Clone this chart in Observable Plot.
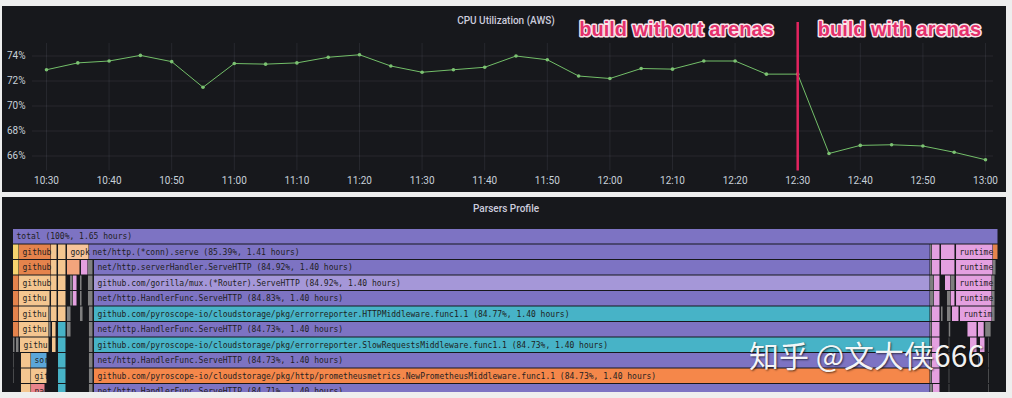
<!DOCTYPE html>
<html>
<head>
<meta charset="utf-8">
<script src="https://cdn.jsdelivr.net/npm/d3@7"></script>
<script src="https://cdn.jsdelivr.net/npm/@observablehq/plot@0.6"></script>
<style>
  html, body { margin: 0; padding: 0; background: #eeeeee; }
  #page { position: relative; width: 1012px; height: 398px; overflow: hidden; background: #eeeeee; font-family: Roboto, "Noto Sans", sans-serif; }
  .panel { position: absolute; background: #17181c; }
  .ptitle { position: absolute; width: 1012px; left: 0; text-align: center; color: #ccccdc; font-size: 10px; font-weight: 500; }
  #cpu { position: absolute; left: 2px; top: 6px; }
  #flameWrap { position: absolute; left: 0; top: 197px; width: 1012px; height: 195px; overflow: hidden; }
  #wm { position: absolute; left: 749px; top: 339px; font-family: "Noto Sans CJK SC", sans-serif; font-size: 30px; color: rgba(255,255,255,0.95); text-shadow: 1px 1px 2px rgba(0,0,0,0.6); white-space: nowrap; line-height: 1; }
</style>
</head>
<body>
<div id="page">
  <div class="panel" style="left:2px; top:6px; width:1004px; height:186px;"></div>
  <div class="panel" style="left:2px; top:197px; width:1004px; height:195px;"></div>
  <div id="cpu"></div>
  <div id="flameWrap"></div>
  <div class="ptitle" style="top:15px;">CPU Utilization (AWS)</div>
  <div class="ptitle" style="top:203px;">Parsers Profile</div>
  <div id="wm">知乎 @文大侠666</div>
</div>
<script>
// ---------- CPU utilization data ----------
const cpuTimes = ["10:30","10:35","10:40","10:45","10:50","10:55","11:00","11:05","11:10","11:15","11:20","11:25","11:30","11:35","11:40","11:45","11:50","11:55","12:00","12:05","12:10","12:15","12:20","12:25","12:30","12:35","12:40","12:45","12:50","12:55","13:00"];
const cpuValues = [72.9,73.45,73.6,74.05,73.55,71.5,73.4,73.35,73.45,73.9,74.1,73.2,72.7,72.9,73.1,74.0,73.7,72.4,72.2,73.0,72.95,73.6,73.6,72.55,72.55,66.2,66.85,66.9,66.8,66.3,65.7];
const xTickLabels = ["10:30","10:40","10:50","11:00","11:10","11:20","11:30","11:40","11:50","12:00","12:10","12:20","12:30","12:40","12:50","13:00"];
const yTickValues = [66,68,70,72,74];
const markerTime = "12:30";
const labelBefore = "build without arenas";
const labelAfter = "build with arenas";

// ---------- Flame graph data: [depth, start %, end %, kind, label] ----------
const mainStack = [
  [0, 0, 100, "net", "total (100%, 1.65 hours)"],
  [1, 7.72, 93.11, "net", "net/http.(*conn).serve (85.39%, 1.41 hours)"],
  [2, 8.22, 93.1, "net", "net/http.serverHandler.ServeHTTP (84.92%, 1.40 hours)"],
  [3, 8.22, 93.1, "gorilla", "github.com/gorilla/mux.(*Router).ServeHTTP (84.92%, 1.40 hours)"],
  [4, 8.22, 93.1, "net", "net/http.HandlerFunc.ServeHTTP (84.83%, 1.40 hours)"],
  [5, 8.22, 93.1, "pyro", "github.com/pyroscope-io/cloudstorage/pkg/errorreporter.HTTPMiddleware.func1.1 (84.77%, 1.40 hours)"],
  [6, 8.22, 93.1, "net", "net/http.HandlerFunc.ServeHTTP (84.73%, 1.40 hours)"],
  [7, 8.22, 93.1, "pyro", "github.com/pyroscope-io/cloudstorage/pkg/errorreporter.SlowRequestsMiddleware.func1.1 (84.73%, 1.40 hours)"],
  [8, 8.22, 93.1, "net", "net/http.HandlerFunc.ServeHTTP (84.73%, 1.40 hours)"],
  [9, 8.22, 93.1, "prom", "github.com/pyroscope-io/cloudstorage/pkg/http/prometheusmetrics.NewPrometheusMiddleware.func1.1 (84.73%, 1.40 hours)"],
  [10, 8.22, 93.1, "net", "net/http.HandlerFunc.ServeHTTP (84.71%, 1.40 hours)"]
];
const leftFrames = [
  [1,0,0.61,"yellow",""],[1,0.61,3.86,"orange","github"],[1,3.86,4.47,"tan",""],[1,4.57,5.38,"tan",""],[1,5.48,7.72,"peach","gopk"],
  [2,0,0.61,"yellow",""],[2,0.61,3.86,"orange","github"],[2,3.86,4.47,"tan",""],[2,4.57,5.38,"tan",""],[2,5.48,6.80,"salmon",""],[2,6.90,7.61,"pink",""],[2,7.61,8.12,"gray",""],
  [3,0,0.61,"orange",""],[3,0.61,3.86,"tan","github"],[3,3.86,4.47,"tan",""],[3,4.57,5.38,"tan",""],[3,5.79,6.09,"gray",""],[3,6.09,6.50,"pink",""],[3,6.80,7.01,"gray",""],[3,7.61,8.12,"gray",""],
  [4,0,0.61,"orange",""],[4,0.61,3.76,"tan","githu"],[4,3.86,4.47,"tan",""],[4,4.57,5.38,"tan",""],[4,5.79,6.09,"gray",""],[4,6.09,6.50,"pink",""],[4,6.80,7.01,"gray",""],[4,7.61,8.12,"gray",""],
  [5,0,0.61,"orange",""],[5,0.61,3.65,"tan","githu"],[5,3.65,3.86,"gray",""],[5,3.86,4.47,"tan",""],[5,4.57,5.38,"tan",""],[5,5.48,5.89,"gray",""],[5,6.80,7.11,"gray",""],[5,7.71,8.12,"gray",""],
  [6,0,0.61,"orange",""],[6,0.61,3.65,"tan","githu"],[6,3.65,3.86,"gray",""],[6,3.96,4.37,"tan",""],[6,4.57,5.38,"pyro",""],[6,5.48,5.89,"gray",""],[6,7.71,8.12,"gray",""],
  [7,0,0.2,"gray",""],[7,0.3,0.61,"gray",""],[7,0.71,3.65,"tan","githu"],[7,3.96,4.37,"tan",""],[7,4.57,5.38,"pyro",""],[7,7.71,8.12,"gray",""],
  [8,0,0.1,"gray",""],[8,0.81,1.83,"tan",""],[8,1.83,3.45,"blue","sor"],[8,4.57,5.38,"pyro",""],[8,7.71,8.12,"gray",""],
  [9,0,0.1,"gray",""],[9,0.81,1.83,"tan",""],[9,1.83,3.45,"tan","git"],[9,4.57,5.38,"pyro",""],[9,7.71,8.12,"gray",""],
  [10,0.81,1.83,"tan",""],[10,1.83,3.25,"red","nat"],[10,4.57,5.38,"pyro",""],[10,7.71,8.12,"gray",""]
];
const rightFrames = [
  [1,93.1,93.3,"gray",""],[1,93.3,94.11,"pink",""],[1,94.21,95.63,"pink",""],[1,95.74,99.49,"pink","runtime"],[1,99.49,100,"orange",""],
  [2,93.1,93.3,"gray",""],[2,93.3,94.11,"pink",""],[2,94.21,95.63,"pink",""],[2,95.74,99.49,"pink","runtime"],[2,99.49,99.8,"gray",""],
  [3,93.1,93.5,"gray",""],[3,93.5,94.11,"pink",""],[3,94.62,95.2,"pink",""],[3,95.2,95.63,"gray",""],[3,95.74,99.39,"pink","runtime"],[3,99.39,99.7,"gray",""],
  [4,93.1,93.5,"gray",""],[4,93.5,94.11,"pink",""],[4,94.82,95.2,"gray",""],[4,95.2,95.63,"pink",""],[4,95.74,99.39,"pink","runtime"],[4,99.39,99.7,"gray",""],
  [5,93.1,93.3,"gray",""],[5,93.3,94.11,"pink",""],[5,94.21,94.42,"gray",""],[5,94.82,95.23,"gray",""],[5,95.33,96.04,"pink",""],[5,96.14,99.39,"pink","runtim"],[5,99.39,99.7,"gray",""],
  [6,93.1,93.3,"gray",""],[6,93.3,94.11,"pink",""],[6,95.0,95.2,"gray",""],[6,96.9,97.87,"pink",""],[6,97.97,98.6,"pink",""],[6,98.7,99.3,"gray",""],
  [7,93.1,93.3,"gray",""],[7,93.3,94.11,"pink",""],[7,95.0,95.1,"gray",""],[7,97.16,97.87,"pink",""],[7,98.17,98.68,"pink",""],[7,99.0,99.1,"gray",""],
  [8,93.1,93.3,"gray",""],[8,93.3,94.11,"pink",""],[8,95.0,95.1,"gray",""],[8,98.0,98.1,"gray",""],[8,99.0,99.1,"gray",""],
  [9,93.1,93.3,"gray",""],[9,93.3,94.11,"pink",""],[9,95.0,95.1,"gray",""],[9,99.0,99.1,"gray",""],
  [10,93.1,93.4,"gray",""],[10,93.4,94.11,"pink",""],[10,95.0,95.1,"gray",""],[10,99.0,99.1,"gray",""]
];
const frameKinds = ["net","gorilla","pyro","prom","orange","tan","peach","yellow","salmon","pink","gray","blue","red"];
const frameColors = ["#7d73c3","#a597d8","#47b3c7","#f5874a","#e5834c","#f4c690","#f7c49b","#f6d36e","#f2a47c","#e4a0e0","#7f7f7f","#5ba6d8","#e8838b"];

// ---------- build ----------
const toDate = t => new Date(`2022-06-01T${t}:00Z`);
const cpu = cpuTimes.map((t, i) => ({time: toDate(t), value: cpuValues[i]}));
const marker = toDate(markerTime);
const annStyle = {
  x: () => marker, frameAnchor: "top", lineAnchor: "middle", dy: -14,
  fill: "#e4306c", stroke: "#fbe3ea", strokeWidth: 3, paintOrder: "stroke",
  fontFamily: "Liberation Sans, Arial, sans-serif", fontWeight: "bold", fontSize: 20
};

const cpuChart = Plot.plot({
  width: 1003, height: 186,
  marginLeft: 44, marginRight: 20, marginTop: 37, marginBottom: 21.5,
  style: {background: "transparent", color: "#c7d0d9", fontFamily: "Roboto, sans-serif", fontSize: "10px", overflow: "visible"},
  x: {type: "utc", domain: [toDate(cpuTimes[0]), toDate(cpuTimes[cpuTimes.length - 1])]},
  y: {domain: [64.8, 75]},
  marks: [
    Plot.gridX(xTickLabels.map(toDate), {stroke: "#ccccdc", strokeOpacity: 0.09}),
    Plot.ruleY(yTickValues, {stroke: "#ccccdc", strokeOpacity: 0.09, insetLeft: -14, insetRight: -8}),
    Plot.axisX(xTickLabels.map(toDate), {tickSize: 0, tickPadding: 6, tickFormat: d3.utcFormat("%H:%M"), label: null, fill: "#c7d0d9"}),
    Plot.axisY(yTickValues, {tickSize: 0, tickPadding: 21, tickFormat: d => d + "%", label: null, fill: "#c7d0d9"}),
    Plot.line(cpu, {x: "time", y: "value", stroke: "#73bf69", strokeWidth: 1}),
    Plot.dot(cpu, {x: "time", y: "value", r: 1.8, fill: "#7cc272", stroke: "none"}),
    Plot.ruleX([marker], {stroke: "#e2245f", strokeWidth: 2.5, insetTop: -21}),
    Plot.text([labelBefore], {...annStyle, text: d => d, textAnchor: "end", dx: -24}),
    Plot.text([labelAfter], {...annStyle, text: d => d, textAnchor: "start", dx: 20})
  ]
});
document.getElementById("cpu").appendChild(cpuChart);

const frames = [...mainStack, ...leftFrames, ...rightFrames].map(([depth, start, end, kind, label]) => ({depth, start, end, kind, label}));

const flame = Plot.plot({
  width: 1012, height: 203,
  marginLeft: 13, marginRight: 14, marginTop: 32, marginBottom: 0.5,
  style: {background: "transparent", overflow: "visible"},
  x: {domain: [0, 100], axis: null},
  y: {domain: [0, 11], range: [32, 202.5], axis: null},
  color: {type: "ordinal", domain: frameKinds, range: frameColors},
  marks: [
    Plot.rect(frames, {x1: "start", x2: "end", y1: "depth", y2: d => d.depth + 1, fill: "kind", insetBottom: 1, insetRight: 0.5}),
    Plot.text(frames.filter(d => d.label), {
      x: "start", y: d => d.depth + 0.47, text: "label", textAnchor: "start", dx: 3,
      fill: "#1e1e22", fontFamily: "DejaVu Sans Mono, monospace", fontSize: 8
    })
  ]
});
document.getElementById("flameWrap").appendChild(flame);
</script>
</body>
</html>
